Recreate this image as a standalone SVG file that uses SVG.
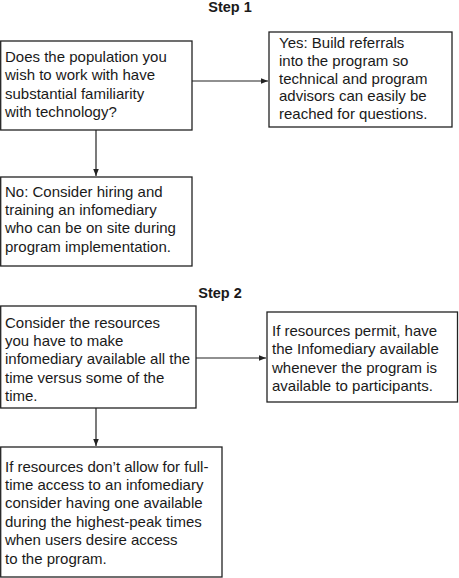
<svg xmlns="http://www.w3.org/2000/svg" width="459" height="578" viewBox="0 0 459 578">
<defs>
<marker id="ah" viewBox="0 0 10 10" refX="10" refY="5" markerWidth="7" markerHeight="7" markerUnits="userSpaceOnUse" orient="auto">
<path d="M0,1 L10,5 L0,9 Z" fill="#222"/>
</marker>
<style>
.box{fill:#fff;stroke:#222;stroke-width:1.3}
.t{font-family:"Liberation Sans",Arial,sans-serif;font-size:15px;fill:#1a1a1a}
.h{font-family:"Liberation Sans",Arial,sans-serif;font-size:14.5px;font-weight:bold;fill:#1a1a1a}
.c{stroke:#222;stroke-width:1.2;fill:none;marker-end:url(#ah)}
</style>
</defs>
<rect width="459" height="578" fill="#fff"/>
<text class="h" x="230" y="12" text-anchor="middle">Step 1</text>
<text class="h" x="220" y="298" text-anchor="middle">Step 2</text>
<g id="connectors">
<line class="c" x1="192" y1="81" x2="268" y2="81"/>
<line class="c" x1="96" y1="130" x2="96" y2="176"/>
<line class="c" x1="196" y1="358" x2="266" y2="358"/>
<line class="c" x1="96" y1="408" x2="96" y2="446"/>
</g>
<g id="n1">
<rect class="box" x="0.7" y="41" width="191.3" height="89"/>
<text class="t" x="5" y="62">Does the population you</text>
<text class="t" x="5" y="80">wish to work with have</text>
<text class="t" x="5" y="99">substantial familiarity</text>
<text class="t" x="5" y="117">with technology?</text>
</g>
<g id="n2">
<rect class="box" x="269" y="32" width="183" height="95"/>
<text class="t" x="279" y="48">Yes: Build referrals</text>
<text class="t" x="279" y="66">into the program so</text>
<text class="t" x="279" y="84">technical and program</text>
<text class="t" x="279" y="101">advisors can easily be</text>
<text class="t" x="279" y="119">reached for questions.</text>
</g>
<g id="n3">
<rect class="box" x="0.7" y="177" width="191.3" height="89"/>
<text class="t" x="5" y="197">No: Consider hiring and</text>
<text class="t" x="5" y="215">training an infomediary</text>
<text class="t" x="5" y="233">who can be on site during</text>
<text class="t" x="5" y="252">program implementation.</text>
</g>
<g id="n4">
<rect class="box" x="0.7" y="306" width="195.3" height="102"/>
<text class="t" x="5" y="328">Consider the resources</text>
<text class="t" x="5" y="346">you have to make</text>
<text class="t" x="5" y="364">infomediary available all the</text>
<text class="t" x="5" y="383">time versus some of the</text>
<text class="t" x="5" y="401">time.</text>
</g>
<g id="n5">
<rect class="box" x="267" y="312" width="190.5" height="90"/>
<text class="t" x="272" y="336">If resources permit, have</text>
<text class="t" x="272" y="354">the Infomediary available</text>
<text class="t" x="272" y="373">whenever the program is</text>
<text class="t" x="272" y="391">available to participants.</text>
</g>
<g id="n6">
<rect class="box" x="0.7" y="447" width="221.3" height="130"/>
<text class="t" x="5" y="472">If resources don’t allow for full-</text>
<text class="t" x="5" y="490">time access to an infomediary</text>
<text class="t" x="5" y="508">consider having one available</text>
<text class="t" x="5" y="527">during the highest-peak times</text>
<text class="t" x="5" y="545">when users desire access</text>
<text class="t" x="5" y="564">to the program.</text>
</g>
</svg>
